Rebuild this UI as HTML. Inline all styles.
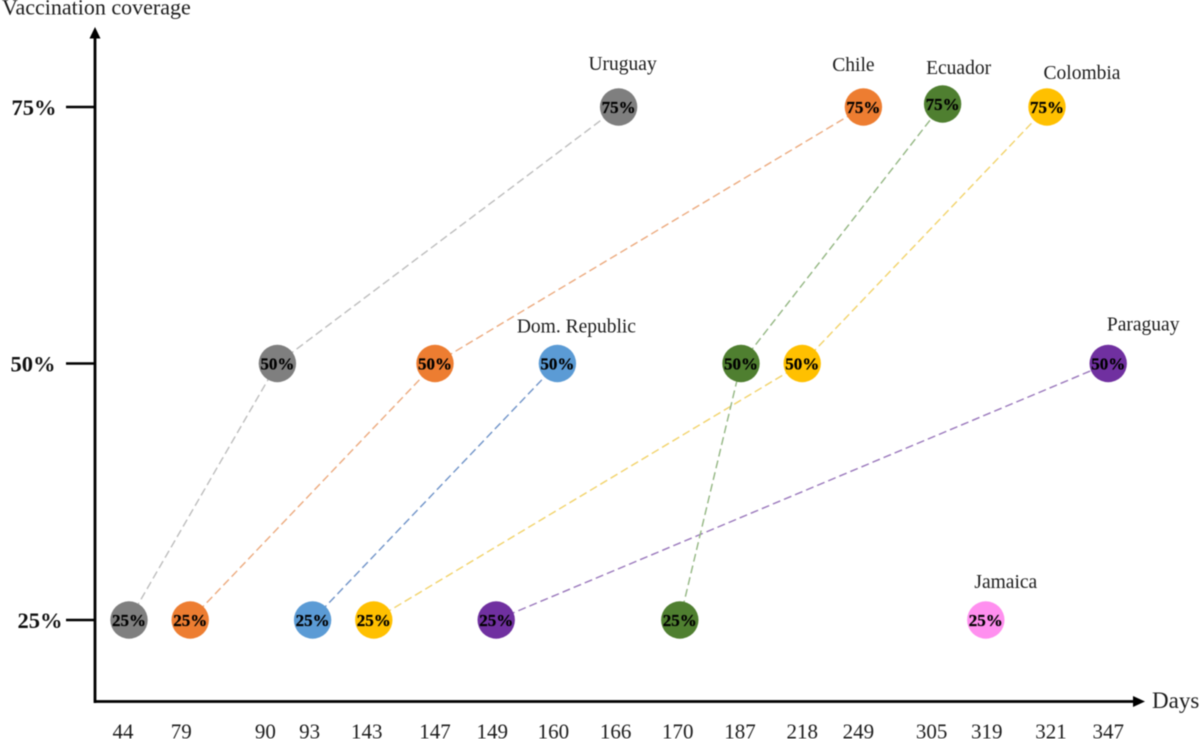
<!DOCTYPE html>
<html lang="en">
<head>
<meta charset="utf-8">
<title>Vaccination coverage by days</title>
<style>
html,body{margin:0;padding:0;background:#fff;width:1200px;height:739px;overflow:hidden}
svg{display:block;filter:blur(.45px)}
text{font-family:"Liberation Serif",serif;fill:#1c1c1c}
.pct{font-weight:700;font-size:17px;fill:#000;text-anchor:middle;stroke:#000;stroke-width:.25px}
.name{font-size:19.5px;text-anchor:middle}
.xt{font-size:21px;text-anchor:middle}
.yt{font-size:22.5px;font-weight:700;fill:#111;text-anchor:middle}
</style>
</head>
<body>
<svg id="chart" xmlns="http://www.w3.org/2000/svg" width="1200" height="739" viewBox="0 0 1200 739">
  <rect width="1200" height="739" fill="#fff"/>
  <g id="lines"></g>
  <g id="points"></g>
  <g id="names"></g>
  <g id="axes">
    <line x1="95" y1="703" x2="95" y2="36" stroke="#000" stroke-width="2.8"/>
    <polygon points="95,27 89.5,38.5 100.5,38.5" fill="#000"/>
    <line x1="94" y1="701.5" x2="1135" y2="701.5" stroke="#000" stroke-width="2.8"/>
    <polygon points="1145,701.5 1133,696 1133,707" fill="#000"/>
    <text x="2" y="14.5" font-size="22px">Vaccination coverage</text>
    <text x="1152" y="708" font-size="23px">Days</text>
  </g>
  <g id="xticks"></g>
  <g id="yticks"></g>
</svg>
<script>
const dayCategories = [44, 79, 90, 93, 143, 147, 149, 160, 166, 170, 187, 218, 249, 305, 319, 321, 347];
const coverageTicks = [25, 50, 75];

const uruguayDays = [44, 90, 166];
const uruguayCoverage = [25, 50, 75];
const chileDays = [79, 147, 249];
const chileCoverage = [25, 50, 75];
const domRepublicDays = [93, 160];
const domRepublicCoverage = [25, 50];
const colombiaDays = [143, 218, 321];
const colombiaCoverage = [25, 50, 75];
const paraguayDays = [149, 347];
const paraguayCoverage = [25, 50];
const ecuadorDays = [170, 187, 305];
const ecuadorCoverage = [25, 50, 75];
const jamaicaDays = [319];
const jamaicaCoverage = [25];

const NS = 'http://www.w3.org/2000/svg';

/* category axis: evenly spaced slots, with the two wider gaps seen in the figure */
function slotX(i) {
  let x = 129 + 61.2 * i;
  if (i === 2) x += 26;
  if (i === 13) x += 18;
  return x;
}
function xScale(day) {
  const c = dayCategories;
  if (day <= c[0]) return slotX(0) + (day - c[0]) * 1.7;
  for (let i = 1; i < c.length; i++) {
    if (day <= c[i]) {
      return slotX(i - 1) + (day - c[i - 1]) / (c[i] - c[i - 1]) * (slotX(i) - slotX(i - 1));
    }
  }
  return slotX(c.length - 1) + (day - c[c.length - 1]) * 2.3;
}
function yScale(v) {
  return 620 - (v - 25) * 10.26;
}
/* tick-label placement under the axis */
function xTickLabelX(i) {
  const shift = {0: -6, 1: -9, 2: -12, 3: -3, 4: -7, 5: 0, 6: -4, 7: -4, 8: -3, 9: -2, 10: -1, 11: 0, 12: -5, 13: -11, 14: 1, 15: 4, 16: 0};
  return slotX(i) + (shift[i] || 0);
}
function yTickLabelX(i) {
  const shift = {0: 40, 1: 33, 2: 34};
  return shift[i] === undefined ? 36 : shift[i];
}

function svgEl(tag, parent) {
  const el = document.createElementNS(NS, tag);
  parent.appendChild(el);
  return el;
}

function drawSeries(key, title, color, lineColor, days, coverage, labelAt, labelDx, labelDy, nudgeY) {
  const lineGroup = document.getElementById('lines');
  const pointGroup = document.getElementById('points');
  const nameGroup = document.getElementById('names');
  const px = i => xScale(days[i]);
  const py = i => yScale(coverage[i]) + nudgeY(i);

  for (let i = 0; i + 1 < days.length; i++) {
    const seg = svgEl('line', lineGroup);
    
    
    seg.setAttribute('x1', px(i));
    seg.setAttribute('y1', py(i));
    seg.setAttribute('x2', px(i + 1));
    seg.setAttribute('y2', py(i + 1));
    seg.setAttribute('stroke', lineColor);
    seg.setAttribute('stroke-width', '1.4');
    seg.setAttribute('stroke-dasharray', '8 4');
  }
  days.forEach((d, i) => {
    const dot = svgEl('circle', pointGroup);
    
    
    dot.setAttribute('cx', px(i));
    dot.setAttribute('cy', py(i));
    dot.setAttribute('r', '18.7');
    dot.setAttribute('fill', color);

    const pct = svgEl('text', pointGroup);
    
    
    pct.setAttribute('class', 'pct');
    pct.setAttribute('x', px(i));
    pct.setAttribute('y', py(i) + 6);
    pct.textContent = coverage[i] + '%';
  });
  const label = svgEl('text', nameGroup);
  
  
  label.setAttribute('class', 'name');
  label.setAttribute('x', px(labelAt) + labelDx);
  label.setAttribute('y', py(labelAt) + labelDy);
  label.textContent = title;
}

const flat = () => 0;
drawSeries('uruguay', 'Uruguay', '#7f7f7f', '#bdbdbd', uruguayDays, uruguayCoverage, 2, 4, -37, flat);
drawSeries('chile', 'Chile', '#ed7d31', '#ecaa7e', chileDays, chileCoverage, 2, -10, -36, flat);
drawSeries('dom-republic', 'Dom. Republic', '#5b9bd5', '#6f93c8', domRepublicDays, domRepublicCoverage, 1, 19, -31, flat);
drawSeries('colombia', 'Colombia', '#ffc000', '#f2d36a', colombiaDays, colombiaCoverage, 2, 35, -28, flat);
drawSeries('paraguay', 'Paraguay', '#7030a0', '#9a78bc', paraguayDays, paraguayCoverage, 1, 35, -33, flat);
drawSeries('ecuador', 'Ecuador', '#4f7f30', '#93b682', ecuadorDays, ecuadorCoverage, 2, 16, -30, i => (i === 2 ? -3 : 0));
drawSeries('jamaica', 'Jamaica', '#ff8fef', '#ff8fef', jamaicaDays, jamaicaCoverage, 0, 20, -32, flat);

const xTickGroup = document.getElementById('xticks');
dayCategories.forEach((d, i) => {
  const t = svgEl('text', xTickGroup);
  
  
  t.setAttribute('class', 'xt');
  t.setAttribute('x', xTickLabelX(i));
  t.setAttribute('y', 738.5);
  t.textContent = d;
});

const yTickGroup = document.getElementById('yticks');
coverageTicks.forEach((v, i) => {
  const tick = svgEl('line', yTickGroup);
  
  
  tick.setAttribute('x1', 66);
  tick.setAttribute('x2', 95);
  tick.setAttribute('y1', yScale(v));
  tick.setAttribute('y2', yScale(v));
  tick.setAttribute('stroke', '#000');
  tick.setAttribute('stroke-width', '2.4');

  const t = svgEl('text', yTickGroup);
  
  
  t.setAttribute('class', 'yt');
  t.setAttribute('x', yTickLabelX(i));
  t.setAttribute('y', yScale(v) + 8);
  t.textContent = v + '%';
});
</script>
</body>
</html>
